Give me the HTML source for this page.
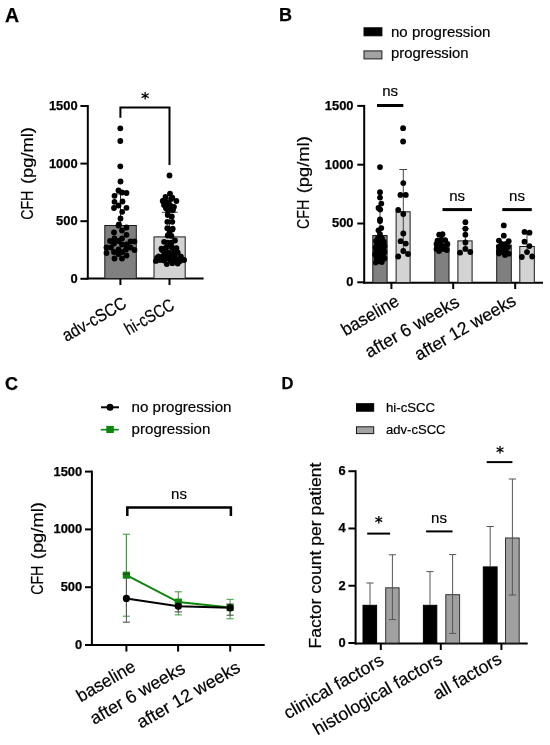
<!DOCTYPE html>
<html><head><meta charset="utf-8"><title>Figure</title>
<style>html,body{margin:0;padding:0;background:#fff;width:550px;height:745px;overflow:hidden}svg{display:block}</style>
</head><body>
<svg width="550" height="745" viewBox="0 0 550 745">
<rect width="550" height="745" fill="#fff"/>
<text x="5" y="22.4" font-size="19.5" font-weight="bold" text-anchor="start" fill="#000" font-family='"Liberation Sans", Arial, sans-serif' stroke="#000" stroke-width="0.25">A</text>
<text x="279" y="21" font-size="18" font-weight="bold" text-anchor="start" fill="#000" font-family='"Liberation Sans", Arial, sans-serif' stroke="#000" stroke-width="0.25">B</text>
<text x="5" y="390.2" font-size="18" font-weight="bold" text-anchor="start" fill="#000" font-family='"Liberation Sans", Arial, sans-serif' stroke="#000" stroke-width="0.25">C</text>
<text x="281.5" y="389" font-size="16.5" font-weight="bold" text-anchor="start" fill="#000" font-family='"Liberation Sans", Arial, sans-serif' stroke="#000" stroke-width="0.25">D</text>
<line x1="87.8" y1="105.00000000000003" x2="87.8" y2="279.5" stroke="#000" stroke-width="2" stroke-linecap="butt"/>
<line x1="86.8" y1="278.5" x2="203.6" y2="278.5" stroke="#000" stroke-width="2" stroke-linecap="butt"/>
<line x1="80.4" y1="278.8" x2="87.8" y2="278.8" stroke="#000" stroke-width="2" stroke-linecap="butt"/>
<text x="77.6" y="282.7" font-size="12.9" font-weight="bold" text-anchor="end" fill="#000" font-family='"Liberation Sans", Arial, sans-serif' stroke="#000" stroke-width="0.25">0</text>
<line x1="80.4" y1="221.20000000000002" x2="87.8" y2="221.20000000000002" stroke="#000" stroke-width="2" stroke-linecap="butt"/>
<text x="77.6" y="225.10000000000002" font-size="12.9" font-weight="bold" text-anchor="end" fill="#000" font-family='"Liberation Sans", Arial, sans-serif' stroke="#000" stroke-width="0.25">500</text>
<line x1="80.4" y1="163.60000000000002" x2="87.8" y2="163.60000000000002" stroke="#000" stroke-width="2" stroke-linecap="butt"/>
<text x="77.6" y="167.50000000000003" font-size="12.9" font-weight="bold" text-anchor="end" fill="#000" font-family='"Liberation Sans", Arial, sans-serif' stroke="#000" stroke-width="0.25">1000</text>
<line x1="80.4" y1="106.00000000000003" x2="87.8" y2="106.00000000000003" stroke="#000" stroke-width="2" stroke-linecap="butt"/>
<text x="77.6" y="109.90000000000003" font-size="12.9" font-weight="bold" text-anchor="end" fill="#000" font-family='"Liberation Sans", Arial, sans-serif' stroke="#000" stroke-width="0.25">1500</text>
<line x1="120.4" y1="278" x2="120.4" y2="285" stroke="#000" stroke-width="2" stroke-linecap="butt"/>
<line x1="169.5" y1="278" x2="169.5" y2="285" stroke="#000" stroke-width="2" stroke-linecap="butt"/>
<rect x="104.80" y="225.50" width="31.50" height="53.00" fill="#808080" stroke="#1a1a1a" stroke-width="1"/>
<rect x="154.00" y="236.90" width="31.20" height="41.60" fill="#d3d3d3" stroke="#1a1a1a" stroke-width="1"/>
<line x1="120.5" y1="194" x2="120.5" y2="225" stroke="#333" stroke-width="1" stroke-linecap="butt"/>
<line x1="116" y1="194" x2="125" y2="194" stroke="#333" stroke-width="1" stroke-linecap="butt"/>
<line x1="169.6" y1="212.3" x2="169.6" y2="236.4" stroke="#333" stroke-width="1" stroke-linecap="butt"/>
<line x1="161.8" y1="212.3" x2="177.7" y2="212.3" stroke="#444" stroke-width="1" stroke-linecap="butt"/>
<circle cx="120.3" cy="128.3" r="2.9" fill="#000"/>
<circle cx="120.3" cy="141" r="2.9" fill="#000"/>
<circle cx="120.3" cy="166.3" r="2.9" fill="#000"/>
<circle cx="120.5" cy="181.5" r="2.9" fill="#000"/>
<circle cx="118.5" cy="190.5" r="2.9" fill="#000"/>
<circle cx="122" cy="192.5" r="2.9" fill="#000"/>
<circle cx="126.5" cy="193" r="2.9" fill="#000"/>
<circle cx="114.5" cy="195.8" r="2.9" fill="#000"/>
<circle cx="114.5" cy="201.8" r="2.9" fill="#000"/>
<circle cx="122.5" cy="201.5" r="2.9" fill="#000"/>
<circle cx="118.5" cy="205.5" r="2.9" fill="#000"/>
<circle cx="114" cy="208" r="2.9" fill="#000"/>
<circle cx="126.5" cy="207.8" r="2.9" fill="#000"/>
<circle cx="122.2" cy="211.8" r="2.9" fill="#000"/>
<circle cx="120.5" cy="218.5" r="2.9" fill="#000"/>
<circle cx="119" cy="224.5" r="2.9" fill="#000"/>
<circle cx="118.5" cy="225.5" r="2.9" fill="#000"/>
<circle cx="126.5" cy="227.5" r="2.9" fill="#000"/>
<circle cx="122" cy="230.5" r="2.9" fill="#000"/>
<circle cx="114" cy="232.5" r="2.9" fill="#000"/>
<circle cx="126.5" cy="234.8" r="2.9" fill="#000"/>
<circle cx="114.5" cy="238.5" r="2.9" fill="#000"/>
<circle cx="122" cy="238.5" r="2.9" fill="#000"/>
<circle cx="110" cy="241" r="2.9" fill="#000"/>
<circle cx="118.5" cy="241" r="2.9" fill="#000"/>
<circle cx="130.5" cy="241.5" r="2.9" fill="#000"/>
<circle cx="134.5" cy="241.5" r="2.9" fill="#000"/>
<circle cx="114" cy="243.5" r="2.9" fill="#000"/>
<circle cx="122" cy="244.5" r="2.9" fill="#000"/>
<circle cx="126.5" cy="244.5" r="2.9" fill="#000"/>
<circle cx="106.5" cy="247.5" r="2.9" fill="#000"/>
<circle cx="111" cy="247.5" r="2.9" fill="#000"/>
<circle cx="130.5" cy="247.5" r="2.9" fill="#000"/>
<circle cx="118.5" cy="249.5" r="2.9" fill="#000"/>
<circle cx="126" cy="249.5" r="2.9" fill="#000"/>
<circle cx="134.5" cy="250" r="2.9" fill="#000"/>
<circle cx="114" cy="252" r="2.9" fill="#000"/>
<circle cx="122" cy="252" r="2.9" fill="#000"/>
<circle cx="106.5" cy="253" r="2.9" fill="#000"/>
<circle cx="118.5" cy="254" r="2.9" fill="#000"/>
<circle cx="126.5" cy="255.5" r="2.9" fill="#000"/>
<circle cx="114.5" cy="258.5" r="2.9" fill="#000"/>
<circle cx="122" cy="258.5" r="2.9" fill="#000"/>
<circle cx="169.5" cy="175.5" r="2.9" fill="#000"/>
<circle cx="170" cy="193.6" r="2.9" fill="#000"/>
<circle cx="165.5" cy="196.8" r="2.9" fill="#000"/>
<circle cx="172.3" cy="197.7" r="2.9" fill="#000"/>
<circle cx="162.7" cy="201" r="2.9" fill="#000"/>
<circle cx="176.4" cy="201" r="2.9" fill="#000"/>
<circle cx="167.7" cy="202.7" r="2.9" fill="#000"/>
<circle cx="166.8" cy="206.4" r="2.9" fill="#000"/>
<circle cx="174" cy="206.8" r="2.9" fill="#000"/>
<circle cx="170.5" cy="209" r="2.9" fill="#000"/>
<circle cx="166" cy="208.2" r="2.9" fill="#000"/>
<circle cx="167.7" cy="215" r="2.9" fill="#000"/>
<circle cx="171.8" cy="216.4" r="2.9" fill="#000"/>
<circle cx="167.3" cy="221.8" r="2.9" fill="#000"/>
<circle cx="172.3" cy="221.8" r="2.9" fill="#000"/>
<circle cx="167.3" cy="228.2" r="2.9" fill="#000"/>
<circle cx="172.7" cy="228.6" r="2.9" fill="#000"/>
<circle cx="172.3" cy="229.5" r="2.9" fill="#000"/>
<circle cx="169.5" cy="232.7" r="2.9" fill="#000"/>
<circle cx="167.7" cy="235.5" r="2.9" fill="#000"/>
<circle cx="171.4" cy="235.9" r="2.9" fill="#000"/>
<circle cx="164.1" cy="241.8" r="2.9" fill="#000"/>
<circle cx="175" cy="240.5" r="2.9" fill="#000"/>
<circle cx="167.7" cy="242.7" r="2.9" fill="#000"/>
<circle cx="171.4" cy="242.7" r="2.9" fill="#000"/>
<circle cx="161.4" cy="248.6" r="2.9" fill="#000"/>
<circle cx="165.9" cy="247.7" r="2.9" fill="#000"/>
<circle cx="172.3" cy="247.7" r="2.9" fill="#000"/>
<circle cx="176.4" cy="248.2" r="2.9" fill="#000"/>
<circle cx="164.1" cy="252.3" r="2.9" fill="#000"/>
<circle cx="168.6" cy="252.3" r="2.9" fill="#000"/>
<circle cx="177.7" cy="252.3" r="2.9" fill="#000"/>
<circle cx="158.6" cy="256.4" r="2.9" fill="#000"/>
<circle cx="162.7" cy="256.4" r="2.9" fill="#000"/>
<circle cx="167.3" cy="256.4" r="2.9" fill="#000"/>
<circle cx="172.3" cy="255" r="2.9" fill="#000"/>
<circle cx="180.9" cy="256.4" r="2.9" fill="#000"/>
<circle cx="155.9" cy="260.9" r="2.9" fill="#000"/>
<circle cx="160" cy="260" r="2.9" fill="#000"/>
<circle cx="164.1" cy="260.5" r="2.9" fill="#000"/>
<circle cx="170.5" cy="260" r="2.9" fill="#000"/>
<circle cx="175" cy="260" r="2.9" fill="#000"/>
<circle cx="178.6" cy="259.1" r="2.9" fill="#000"/>
<circle cx="184.1" cy="260" r="2.9" fill="#000"/>
<circle cx="166.8" cy="264.1" r="2.9" fill="#000"/>
<circle cx="172.3" cy="263.2" r="2.9" fill="#000"/>
<circle cx="177.7" cy="263.6" r="2.9" fill="#000"/>
<circle cx="166" cy="204" r="2.9" fill="#000"/>
<circle cx="170" cy="205" r="2.9" fill="#000"/>
<circle cx="173" cy="210" r="2.9" fill="#000"/>
<circle cx="168" cy="211" r="2.9" fill="#000"/>
<circle cx="164" cy="205" r="2.9" fill="#000"/>
<circle cx="169" cy="246" r="2.9" fill="#000"/>
<circle cx="174" cy="251" r="2.9" fill="#000"/>
<circle cx="162" cy="250" r="2.9" fill="#000"/>
<circle cx="168" cy="258" r="2.9" fill="#000"/>
<circle cx="175" cy="255" r="2.9" fill="#000"/>
<circle cx="180" cy="261" r="2.9" fill="#000"/>
<circle cx="157" cy="258" r="2.9" fill="#000"/>
<circle cx="171" cy="199" r="2.9" fill="#000"/>
<circle cx="165" cy="200" r="2.9" fill="#000"/>
<polyline points="120.4,117.8 120.4,107.6 169.5,107.6 169.5,165" fill="none" stroke="#000" stroke-width="2" stroke-linejoin="miter"/>
<text x="145.1" y="103.5" font-size="16" font-weight="bold" text-anchor="middle" fill="#000" font-family='"DejaVu Sans", sans-serif'>*</text>
<text x="32.6" y="219.8" font-size="16.2" font-weight="normal" text-anchor="start" fill="#000" font-family='"Liberation Sans", Arial, sans-serif' textLength="29.1" lengthAdjust="spacingAndGlyphs" transform="rotate(-90 32.6 219.8)" stroke="#000" stroke-width="0.2">CFH</text>
<text x="32.6" y="184.1" font-size="16.2" font-weight="normal" text-anchor="start" fill="#000" font-family='"Liberation Sans", Arial, sans-serif' textLength="57.08" lengthAdjust="spacingAndGlyphs" transform="rotate(-90 32.6 184.1)" stroke="#000" stroke-width="0.2">(pg/ml)</text>
<text x="127.8" y="306.7" font-size="17.8" font-weight="normal" text-anchor="end" fill="#000" font-family='"Liberation Sans", Arial, sans-serif' textLength="70.7" lengthAdjust="spacingAndGlyphs" transform="rotate(-30 127.8 306.7)" stroke="#000" stroke-width="0.2">adv-cSCC</text>
<text x="175.6" y="308.5" font-size="17.8" font-weight="normal" text-anchor="end" fill="#000" font-family='"Liberation Sans", Arial, sans-serif' textLength="54.0" lengthAdjust="spacingAndGlyphs" transform="rotate(-30 175.6 308.5)" stroke="#000" stroke-width="0.2">hi-cSCC</text>
<line x1="364.2" y1="104.9" x2="364.2" y2="283.7" stroke="#000" stroke-width="2" stroke-linecap="butt"/>
<line x1="363.2" y1="282.7" x2="543" y2="282.7" stroke="#000" stroke-width="2" stroke-linecap="butt"/>
<line x1="357.3" y1="282.3" x2="364.2" y2="282.3" stroke="#000" stroke-width="2" stroke-linecap="butt"/>
<text x="353.5" y="286.2" font-size="12.9" font-weight="bold" text-anchor="end" fill="#000" font-family='"Liberation Sans", Arial, sans-serif' stroke="#000" stroke-width="0.25">0</text>
<line x1="357.3" y1="223.5" x2="364.2" y2="223.5" stroke="#000" stroke-width="2" stroke-linecap="butt"/>
<text x="353.5" y="227.4" font-size="12.9" font-weight="bold" text-anchor="end" fill="#000" font-family='"Liberation Sans", Arial, sans-serif' stroke="#000" stroke-width="0.25">500</text>
<line x1="357.3" y1="164.70000000000002" x2="364.2" y2="164.70000000000002" stroke="#000" stroke-width="2" stroke-linecap="butt"/>
<text x="353.5" y="168.60000000000002" font-size="12.9" font-weight="bold" text-anchor="end" fill="#000" font-family='"Liberation Sans", Arial, sans-serif' stroke="#000" stroke-width="0.25">1000</text>
<line x1="357.3" y1="105.9" x2="364.2" y2="105.9" stroke="#000" stroke-width="2" stroke-linecap="butt"/>
<text x="353.5" y="109.80000000000001" font-size="12.9" font-weight="bold" text-anchor="end" fill="#000" font-family='"Liberation Sans", Arial, sans-serif' stroke="#000" stroke-width="0.25">1500</text>
<line x1="391.4" y1="282" x2="391.4" y2="289" stroke="#000" stroke-width="2" stroke-linecap="butt"/>
<line x1="453.2" y1="282" x2="453.2" y2="289" stroke="#000" stroke-width="2" stroke-linecap="butt"/>
<line x1="515.2" y1="282" x2="515.2" y2="289" stroke="#000" stroke-width="2" stroke-linecap="butt"/>
<rect x="372.80" y="235.50" width="14.30" height="47.00" fill="#808080" stroke="#1a1a1a" stroke-width="1"/>
<rect x="396.10" y="211.80" width="14.00" height="70.70" fill="#d3d3d3" stroke="#1a1a1a" stroke-width="1"/>
<rect x="434.80" y="243.90" width="14.20" height="38.60" fill="#808080" stroke="#1a1a1a" stroke-width="1"/>
<rect x="457.90" y="240.90" width="14.20" height="41.60" fill="#d3d3d3" stroke="#1a1a1a" stroke-width="1"/>
<rect x="496.70" y="245.00" width="14.60" height="37.50" fill="#808080" stroke="#1a1a1a" stroke-width="1"/>
<rect x="519.80" y="246.50" width="14.50" height="36.00" fill="#d3d3d3" stroke="#1a1a1a" stroke-width="1"/>
<line x1="403.3" y1="169.5" x2="403.3" y2="254" stroke="#444" stroke-width="1" stroke-linecap="butt"/>
<line x1="399.3" y1="169.5" x2="407" y2="169.5" stroke="#444" stroke-width="1" stroke-linecap="butt"/>
<line x1="380" y1="210" x2="380" y2="235" stroke="#444" stroke-width="1" stroke-linecap="butt"/>
<circle cx="380" cy="167.1" r="2.9" fill="#000"/>
<circle cx="380" cy="192.2" r="2.9" fill="#000"/>
<circle cx="380" cy="197.6" r="2.9" fill="#000"/>
<circle cx="381.3" cy="203.6" r="2.9" fill="#000"/>
<circle cx="378.5" cy="208" r="2.9" fill="#000"/>
<circle cx="380.2" cy="209.6" r="2.9" fill="#000"/>
<circle cx="380" cy="219.5" r="2.9" fill="#000"/>
<circle cx="380" cy="221" r="2.9" fill="#000"/>
<circle cx="381.3" cy="228.1" r="2.9" fill="#000"/>
<circle cx="378.5" cy="230.3" r="2.9" fill="#000"/>
<circle cx="380" cy="234.1" r="2.9" fill="#000"/>
<circle cx="378" cy="238" r="2.9" fill="#000"/>
<circle cx="382" cy="238.5" r="2.9" fill="#000"/>
<circle cx="376" cy="241" r="2.9" fill="#000"/>
<circle cx="380" cy="241.5" r="2.9" fill="#000"/>
<circle cx="384" cy="242" r="2.9" fill="#000"/>
<circle cx="377" cy="244.5" r="2.9" fill="#000"/>
<circle cx="381" cy="245" r="2.9" fill="#000"/>
<circle cx="384.5" cy="246" r="2.9" fill="#000"/>
<circle cx="375.5" cy="247.5" r="2.9" fill="#000"/>
<circle cx="379.5" cy="248" r="2.9" fill="#000"/>
<circle cx="383.5" cy="249" r="2.9" fill="#000"/>
<circle cx="376" cy="251" r="2.9" fill="#000"/>
<circle cx="380" cy="251.5" r="2.9" fill="#000"/>
<circle cx="384.5" cy="252" r="2.9" fill="#000"/>
<circle cx="375" cy="254.5" r="2.9" fill="#000"/>
<circle cx="379" cy="255" r="2.9" fill="#000"/>
<circle cx="383" cy="255.5" r="2.9" fill="#000"/>
<circle cx="376.5" cy="258" r="2.9" fill="#000"/>
<circle cx="381" cy="258" r="2.9" fill="#000"/>
<circle cx="384.5" cy="258.5" r="2.9" fill="#000"/>
<circle cx="375.8" cy="262.5" r="2.9" fill="#000"/>
<circle cx="381.8" cy="262" r="2.9" fill="#000"/>
<circle cx="378.5" cy="261" r="2.9" fill="#000"/>
<circle cx="403.1" cy="128.2" r="2.9" fill="#000"/>
<circle cx="403.1" cy="141.5" r="2.9" fill="#000"/>
<circle cx="403.3" cy="183.1" r="2.9" fill="#000"/>
<circle cx="400.4" cy="194.9" r="2.9" fill="#000"/>
<circle cx="405.8" cy="194.9" r="2.9" fill="#000"/>
<circle cx="398.2" cy="210" r="2.9" fill="#000"/>
<circle cx="403.3" cy="214" r="2.9" fill="#000"/>
<circle cx="403.3" cy="233.5" r="2.9" fill="#000"/>
<circle cx="400.6" cy="241.2" r="2.9" fill="#000"/>
<circle cx="405.8" cy="243.6" r="2.9" fill="#000"/>
<circle cx="403.3" cy="251" r="2.9" fill="#000"/>
<circle cx="408" cy="254" r="2.9" fill="#000"/>
<circle cx="398.2" cy="256.5" r="2.9" fill="#000"/>
<circle cx="439.2" cy="234.7" r="2.9" fill="#000"/>
<circle cx="442.5" cy="234.2" r="2.9" fill="#000"/>
<circle cx="437.5" cy="240.7" r="2.9" fill="#000"/>
<circle cx="441.4" cy="239.6" r="2.9" fill="#000"/>
<circle cx="445.2" cy="240.2" r="2.9" fill="#000"/>
<circle cx="436.5" cy="244" r="2.9" fill="#000"/>
<circle cx="440.8" cy="244.5" r="2.9" fill="#000"/>
<circle cx="447.4" cy="244" r="2.9" fill="#000"/>
<circle cx="436.5" cy="248.9" r="2.9" fill="#000"/>
<circle cx="441.4" cy="248.9" r="2.9" fill="#000"/>
<circle cx="446.8" cy="250" r="2.9" fill="#000"/>
<circle cx="438.5" cy="246.5" r="2.9" fill="#000"/>
<circle cx="443.5" cy="246.5" r="2.9" fill="#000"/>
<circle cx="445" cy="249" r="2.9" fill="#000"/>
<circle cx="439" cy="251" r="2.9" fill="#000"/>
<line x1="465.4" y1="228.6" x2="465.4" y2="250" stroke="#444" stroke-width="1" stroke-linecap="butt"/>
<line x1="461.8" y1="228.6" x2="469" y2="228.6" stroke="#444" stroke-width="1" stroke-linecap="butt"/>
<circle cx="465.4" cy="222.2" r="2.9" fill="#000"/>
<circle cx="465.4" cy="228.7" r="2.9" fill="#000"/>
<circle cx="465.4" cy="234.7" r="2.9" fill="#000"/>
<circle cx="465.4" cy="242.4" r="2.9" fill="#000"/>
<circle cx="465.4" cy="248.9" r="2.9" fill="#000"/>
<circle cx="460.1" cy="252.7" r="2.9" fill="#000"/>
<circle cx="470.3" cy="252" r="2.9" fill="#000"/>
<circle cx="503.8" cy="225.4" r="2.9" fill="#000"/>
<circle cx="503.8" cy="235.7" r="2.9" fill="#000"/>
<circle cx="498.9" cy="240.6" r="2.9" fill="#000"/>
<circle cx="508.7" cy="241.2" r="2.9" fill="#000"/>
<circle cx="501.6" cy="243.9" r="2.9" fill="#000"/>
<circle cx="506" cy="243.9" r="2.9" fill="#000"/>
<circle cx="503.8" cy="246.6" r="2.9" fill="#000"/>
<circle cx="498.9" cy="251.5" r="2.9" fill="#000"/>
<circle cx="503.8" cy="251.5" r="2.9" fill="#000"/>
<circle cx="508.7" cy="253.7" r="2.9" fill="#000"/>
<circle cx="499" cy="247" r="2.9" fill="#000"/>
<circle cx="503" cy="249" r="2.9" fill="#000"/>
<circle cx="508" cy="247" r="2.9" fill="#000"/>
<circle cx="501" cy="252" r="2.9" fill="#000"/>
<circle cx="506" cy="252" r="2.9" fill="#000"/>
<circle cx="499" cy="253.5" r="2.9" fill="#000"/>
<circle cx="505" cy="255" r="2.9" fill="#000"/>
<line x1="527" y1="232" x2="527" y2="252" stroke="#444" stroke-width="1" stroke-linecap="butt"/>
<circle cx="524.5" cy="231.9" r="2.9" fill="#000"/>
<circle cx="529.5" cy="232.7" r="2.9" fill="#000"/>
<circle cx="524.5" cy="241.7" r="2.9" fill="#000"/>
<circle cx="529.5" cy="246.1" r="2.9" fill="#000"/>
<circle cx="527" cy="252.1" r="2.9" fill="#000"/>
<circle cx="521.8" cy="257" r="2.9" fill="#000"/>
<circle cx="532.2" cy="256.5" r="2.9" fill="#000"/>
<line x1="377" y1="105.5" x2="403.3" y2="105.5" stroke="#000" stroke-width="3" stroke-linecap="butt"/>
<line x1="442.5" y1="209.6" x2="472" y2="209.6" stroke="#000" stroke-width="3" stroke-linecap="butt"/>
<line x1="502.3" y1="209.6" x2="531.8" y2="209.6" stroke="#000" stroke-width="3" stroke-linecap="butt"/>
<text x="390.2" y="96.4" font-size="15" font-weight="normal" text-anchor="middle" fill="#000" font-family='"Liberation Sans", Arial, sans-serif' stroke="#000" stroke-width="0.2">ns</text>
<text x="457.2" y="200.8" font-size="15" font-weight="normal" text-anchor="middle" fill="#000" font-family='"Liberation Sans", Arial, sans-serif' stroke="#000" stroke-width="0.2">ns</text>
<text x="517" y="200.8" font-size="15" font-weight="normal" text-anchor="middle" fill="#000" font-family='"Liberation Sans", Arial, sans-serif' stroke="#000" stroke-width="0.2">ns</text>
<rect x="364.00" y="27.80" width="17.90" height="8.00" fill="#000" stroke="#000" stroke-width="1"/>
<rect x="364.00" y="50.90" width="17.90" height="8.00" fill="#a3a3a3" stroke="#1a1a1a" stroke-width="1"/>
<text x="391" y="36.9" font-size="15" font-weight="normal" text-anchor="start" fill="#000" font-family='"Liberation Sans", Arial, sans-serif' textLength="99.4" lengthAdjust="spacingAndGlyphs" stroke="#000" stroke-width="0.2">no progression</text>
<text x="391" y="57.7" font-size="15" font-weight="normal" text-anchor="start" fill="#000" font-family='"Liberation Sans", Arial, sans-serif' textLength="77.6" lengthAdjust="spacingAndGlyphs" stroke="#000" stroke-width="0.2">progression</text>
<text x="308.8" y="228.9" font-size="16.2" font-weight="normal" text-anchor="start" fill="#000" font-family='"Liberation Sans", Arial, sans-serif' textLength="29.1" lengthAdjust="spacingAndGlyphs" transform="rotate(-90 308.8 228.9)" stroke="#000" stroke-width="0.2">CFH</text>
<text x="308.8" y="193.3" font-size="16.2" font-weight="normal" text-anchor="start" fill="#000" font-family='"Liberation Sans", Arial, sans-serif' textLength="57.08" lengthAdjust="spacingAndGlyphs" transform="rotate(-90 308.8 193.3)" stroke="#000" stroke-width="0.2">(pg/ml)</text>
<text x="400.4" y="304.4" font-size="17.8" font-weight="normal" text-anchor="end" fill="#000" font-family='"Liberation Sans", Arial, sans-serif' textLength="63.5" lengthAdjust="spacingAndGlyphs" transform="rotate(-30 400.4 304.4)" stroke="#000" stroke-width="0.2">baseline</text>
<text x="460.7" y="305.4" font-size="17.8" font-weight="normal" text-anchor="end" fill="#000" font-family='"Liberation Sans", Arial, sans-serif' textLength="105.5" lengthAdjust="spacingAndGlyphs" transform="rotate(-30 460.7 305.4)" stroke="#000" stroke-width="0.2">after 6 weeks</text>
<text x="517.4" y="304.0" font-size="17.8" font-weight="normal" text-anchor="end" fill="#000" font-family='"Liberation Sans", Arial, sans-serif' textLength="113.8" lengthAdjust="spacingAndGlyphs" transform="rotate(-30 517.4 304.0)" stroke="#000" stroke-width="0.2">after 12 weeks</text>
<line x1="91.9" y1="470.6" x2="91.9" y2="646" stroke="#000" stroke-width="2" stroke-linecap="butt"/>
<line x1="90.9" y1="645" x2="264.7" y2="645" stroke="#000" stroke-width="2" stroke-linecap="butt"/>
<line x1="85" y1="645.0" x2="91.9" y2="645.0" stroke="#000" stroke-width="2" stroke-linecap="butt"/>
<text x="82.2" y="648.9" font-size="12.9" font-weight="bold" text-anchor="end" fill="#000" font-family='"Liberation Sans", Arial, sans-serif' stroke="#000" stroke-width="0.25">0</text>
<line x1="85" y1="587.2" x2="91.9" y2="587.2" stroke="#000" stroke-width="2" stroke-linecap="butt"/>
<text x="82.2" y="591.1" font-size="12.9" font-weight="bold" text-anchor="end" fill="#000" font-family='"Liberation Sans", Arial, sans-serif' stroke="#000" stroke-width="0.25">500</text>
<line x1="85" y1="529.4" x2="91.9" y2="529.4" stroke="#000" stroke-width="2" stroke-linecap="butt"/>
<text x="82.2" y="533.3" font-size="12.9" font-weight="bold" text-anchor="end" fill="#000" font-family='"Liberation Sans", Arial, sans-serif' stroke="#000" stroke-width="0.25">1000</text>
<line x1="85" y1="471.6" x2="91.9" y2="471.6" stroke="#000" stroke-width="2" stroke-linecap="butt"/>
<text x="82.2" y="475.5" font-size="12.9" font-weight="bold" text-anchor="end" fill="#000" font-family='"Liberation Sans", Arial, sans-serif' stroke="#000" stroke-width="0.25">1500</text>
<line x1="126.4" y1="645" x2="126.4" y2="651.6" stroke="#000" stroke-width="2" stroke-linecap="butt"/>
<line x1="178.1" y1="645" x2="178.1" y2="651.6" stroke="#000" stroke-width="2" stroke-linecap="butt"/>
<line x1="230.2" y1="645" x2="230.2" y2="651.6" stroke="#000" stroke-width="2" stroke-linecap="butt"/>
<line x1="126.4" y1="534.2" x2="126.4" y2="575" stroke="#3a9a3a" stroke-width="1" stroke-linecap="butt"/>
<line x1="122.80000000000001" y1="534.2" x2="130.0" y2="534.2" stroke="#3a9a3a" stroke-width="1" stroke-linecap="butt"/>
<line x1="122.80000000000001" y1="616.2" x2="130.0" y2="616.2" stroke="#3a9a3a" stroke-width="1" stroke-linecap="butt"/>
<line x1="126.4" y1="534.2" x2="126.4" y2="616.2" stroke="#3a9a3a" stroke-width="1" stroke-linecap="butt"/>
<line x1="174.70000000000002" y1="591.8" x2="181.9" y2="591.8" stroke="#3a9a3a" stroke-width="1" stroke-linecap="butt"/>
<line x1="174.70000000000002" y1="614.9" x2="181.9" y2="614.9" stroke="#3a9a3a" stroke-width="1" stroke-linecap="butt"/>
<line x1="178.3" y1="591.8" x2="178.3" y2="614.9" stroke="#3a9a3a" stroke-width="1" stroke-linecap="butt"/>
<line x1="226.5" y1="599.3" x2="233.7" y2="599.3" stroke="#3a9a3a" stroke-width="1" stroke-linecap="butt"/>
<line x1="226.5" y1="618.8" x2="233.7" y2="618.8" stroke="#3a9a3a" stroke-width="1" stroke-linecap="butt"/>
<line x1="230.1" y1="599.3" x2="230.1" y2="618.8" stroke="#3a9a3a" stroke-width="1" stroke-linecap="butt"/>
<line x1="122.80000000000001" y1="574.1" x2="130.0" y2="574.1" stroke="#444" stroke-width="1" stroke-linecap="butt"/>
<line x1="122.80000000000001" y1="622.2" x2="130.0" y2="622.2" stroke="#444" stroke-width="1" stroke-linecap="butt"/>
<line x1="126.4" y1="574.1" x2="126.4" y2="622.2" stroke="#555" stroke-width="1" stroke-linecap="butt"/>
<line x1="174.70000000000002" y1="601" x2="181.9" y2="601" stroke="#444" stroke-width="1" stroke-linecap="butt"/>
<line x1="174.70000000000002" y1="611.9" x2="181.9" y2="611.9" stroke="#444" stroke-width="1" stroke-linecap="butt"/>
<line x1="178.3" y1="601" x2="178.3" y2="611.9" stroke="#555" stroke-width="1" stroke-linecap="butt"/>
<line x1="226.5" y1="604" x2="233.7" y2="604" stroke="#444" stroke-width="1" stroke-linecap="butt"/>
<line x1="226.5" y1="615.2" x2="233.7" y2="615.2" stroke="#444" stroke-width="1" stroke-linecap="butt"/>
<line x1="230.1" y1="604" x2="230.1" y2="615.2" stroke="#555" stroke-width="1" stroke-linecap="butt"/>
<polyline points="126.4,575.2 178.3,602.1 230.1,607.6" fill="none" stroke="#0b850b" stroke-width="2" stroke-linejoin="miter"/>
<polyline points="126.4,598.4 178.3,606.2 230.1,607.8" fill="none" stroke="#000" stroke-width="2" stroke-linejoin="miter"/>
<rect x="122.80000000000001" y="571.7" width="7.2" height="7" fill="#0b850b"/>
<rect x="174.70000000000002" y="598.6" width="7.2" height="7" fill="#0b850b"/>
<rect x="226.5" y="604.1" width="7.2" height="7" fill="#0b850b"/>
<circle cx="126.4" cy="598.4" r="3.6" fill="#000"/>
<circle cx="178.3" cy="606.2" r="3.6" fill="#000"/>
<circle cx="230.1" cy="607.8" r="3.6" fill="#000"/>
<line x1="122.8" y1="574.1" x2="130" y2="574.1" stroke="#333" stroke-width="1" stroke-linecap="butt"/>
<polyline points="127.3,516 127.3,507.6 230.9,507.6 230.9,516" fill="none" stroke="#000" stroke-width="2.5" stroke-linejoin="miter"/>
<text x="179" y="499.4" font-size="15" font-weight="normal" text-anchor="middle" fill="#000" font-family='"Liberation Sans", Arial, sans-serif' stroke="#000" stroke-width="0.2">ns</text>
<line x1="101" y1="407.3" x2="119" y2="407.3" stroke="#000" stroke-width="2" stroke-linecap="butt"/>
<circle cx="110" cy="407.3" r="3.5" fill="#000"/>
<line x1="100.8" y1="429.7" x2="118.8" y2="429.7" stroke="#0b850b" stroke-width="1.6" stroke-linecap="butt"/>
<rect x="106.3" y="425.9" width="7.5" height="7.1" fill="#0b850b"/>
<text x="131.6" y="412" font-size="15" font-weight="normal" text-anchor="start" fill="#000" font-family='"Liberation Sans", Arial, sans-serif' textLength="99.9" lengthAdjust="spacingAndGlyphs" stroke="#000" stroke-width="0.2">no progression</text>
<text x="131.6" y="433.8" font-size="15" font-weight="normal" text-anchor="start" fill="#000" font-family='"Liberation Sans", Arial, sans-serif' textLength="78.8" lengthAdjust="spacingAndGlyphs" stroke="#000" stroke-width="0.2">progression</text>
<text x="42.6" y="594.8" font-size="16.2" font-weight="normal" text-anchor="start" fill="#000" font-family='"Liberation Sans", Arial, sans-serif' textLength="29.1" lengthAdjust="spacingAndGlyphs" transform="rotate(-90 42.6 594.8)" stroke="#000" stroke-width="0.2">CFH</text>
<text x="42.6" y="559.2" font-size="16.2" font-weight="normal" text-anchor="start" fill="#000" font-family='"Liberation Sans", Arial, sans-serif' textLength="57.08" lengthAdjust="spacingAndGlyphs" transform="rotate(-90 42.6 559.2)" stroke="#000" stroke-width="0.2">(pg/ml)</text>
<text x="136.9" y="670.0" font-size="17.8" font-weight="normal" text-anchor="end" fill="#000" font-family='"Liberation Sans", Arial, sans-serif' textLength="64.8" lengthAdjust="spacingAndGlyphs" transform="rotate(-30 136.9 670.0)" stroke="#000" stroke-width="0.2">baseline</text>
<text x="186.4" y="671.7" font-size="17.8" font-weight="normal" text-anchor="end" fill="#000" font-family='"Liberation Sans", Arial, sans-serif' textLength="106.4" lengthAdjust="spacingAndGlyphs" transform="rotate(-30 186.4 671.7)" stroke="#000" stroke-width="0.2">after 6 weeks</text>
<text x="241.6" y="670.8" font-size="17.8" font-weight="normal" text-anchor="end" fill="#000" font-family='"Liberation Sans", Arial, sans-serif' textLength="116.1" lengthAdjust="spacingAndGlyphs" transform="rotate(-30 241.6 670.8)" stroke="#000" stroke-width="0.2">after 12 weeks</text>
<line x1="355.6" y1="470.22" x2="355.6" y2="644.5" stroke="#000" stroke-width="2" stroke-linecap="butt"/>
<line x1="354.6" y1="643.5" x2="527.7" y2="643.5" stroke="#000" stroke-width="2" stroke-linecap="butt"/>
<line x1="348.4" y1="643.0" x2="355.6" y2="643.0" stroke="#000" stroke-width="2" stroke-linecap="butt"/>
<text x="345.7" y="646.9" font-size="12.9" font-weight="bold" text-anchor="end" fill="#000" font-family='"Liberation Sans", Arial, sans-serif' stroke="#000" stroke-width="0.25">0</text>
<line x1="348.4" y1="585.74" x2="355.6" y2="585.74" stroke="#000" stroke-width="2" stroke-linecap="butt"/>
<text x="345.7" y="589.64" font-size="12.9" font-weight="bold" text-anchor="end" fill="#000" font-family='"Liberation Sans", Arial, sans-serif' stroke="#000" stroke-width="0.25">2</text>
<line x1="348.4" y1="528.48" x2="355.6" y2="528.48" stroke="#000" stroke-width="2" stroke-linecap="butt"/>
<text x="345.7" y="532.38" font-size="12.9" font-weight="bold" text-anchor="end" fill="#000" font-family='"Liberation Sans", Arial, sans-serif' stroke="#000" stroke-width="0.25">4</text>
<line x1="348.4" y1="471.22" x2="355.6" y2="471.22" stroke="#000" stroke-width="2" stroke-linecap="butt"/>
<text x="345.7" y="475.12" font-size="12.9" font-weight="bold" text-anchor="end" fill="#000" font-family='"Liberation Sans", Arial, sans-serif' stroke="#000" stroke-width="0.25">6</text>
<line x1="380.8" y1="643" x2="380.8" y2="650" stroke="#000" stroke-width="2" stroke-linecap="butt"/>
<line x1="440.8" y1="643" x2="440.8" y2="650" stroke="#000" stroke-width="2" stroke-linecap="butt"/>
<line x1="501.4" y1="643" x2="501.4" y2="650" stroke="#000" stroke-width="2" stroke-linecap="butt"/>
<rect x="363.00" y="605.30" width="13.60" height="37.70" fill="#000" stroke="#000" stroke-width="1"/>
<rect x="385.70" y="587.80" width="13.40" height="55.20" fill="#a0a0a0" stroke="#333" stroke-width="1"/>
<rect x="423.40" y="605.30" width="13.40" height="37.70" fill="#000" stroke="#000" stroke-width="1"/>
<rect x="445.80" y="594.70" width="13.80" height="48.30" fill="#a0a0a0" stroke="#333" stroke-width="1"/>
<rect x="483.30" y="566.90" width="13.80" height="76.10" fill="#000" stroke="#000" stroke-width="1"/>
<rect x="505.50" y="538.00" width="13.70" height="105.00" fill="#a0a0a0" stroke="#333" stroke-width="1"/>
<line x1="370" y1="583" x2="370" y2="604.8" stroke="#555" stroke-width="1" stroke-linecap="butt"/>
<line x1="366.4" y1="583" x2="373.6" y2="583" stroke="#555" stroke-width="1" stroke-linecap="butt"/>
<line x1="392.4" y1="554.8" x2="392.4" y2="619.6" stroke="#555" stroke-width="1" stroke-linecap="butt"/>
<line x1="388.79999999999995" y1="554.8" x2="396.0" y2="554.8" stroke="#555" stroke-width="1" stroke-linecap="butt"/>
<line x1="388.79999999999995" y1="619.6" x2="396.0" y2="619.6" stroke="#555" stroke-width="1" stroke-linecap="butt"/>
<line x1="430" y1="571.6" x2="430" y2="604.8" stroke="#555" stroke-width="1" stroke-linecap="butt"/>
<line x1="426.4" y1="571.6" x2="433.6" y2="571.6" stroke="#555" stroke-width="1" stroke-linecap="butt"/>
<line x1="452.6" y1="554.6" x2="452.6" y2="633.4" stroke="#555" stroke-width="1" stroke-linecap="butt"/>
<line x1="449.0" y1="554.6" x2="456.20000000000005" y2="554.6" stroke="#555" stroke-width="1" stroke-linecap="butt"/>
<line x1="449.0" y1="633.4" x2="456.20000000000005" y2="633.4" stroke="#555" stroke-width="1" stroke-linecap="butt"/>
<line x1="490.2" y1="526.5" x2="490.2" y2="566.4" stroke="#555" stroke-width="1" stroke-linecap="butt"/>
<line x1="486.59999999999997" y1="526.5" x2="493.8" y2="526.5" stroke="#555" stroke-width="1" stroke-linecap="butt"/>
<line x1="512.4" y1="479" x2="512.4" y2="595" stroke="#555" stroke-width="1" stroke-linecap="butt"/>
<line x1="508.79999999999995" y1="479" x2="516.0" y2="479" stroke="#555" stroke-width="1" stroke-linecap="butt"/>
<line x1="508.79999999999995" y1="595" x2="516.0" y2="595" stroke="#555" stroke-width="1" stroke-linecap="butt"/>
<line x1="367.2" y1="533.6" x2="390.1" y2="533.6" stroke="#000" stroke-width="2" stroke-linecap="butt"/>
<text x="378.9" y="528.46" font-size="15.5" font-weight="bold" text-anchor="middle" fill="#000" font-family='"DejaVu Sans", sans-serif'>*</text>
<line x1="426.1" y1="531.4" x2="452.5" y2="531.4" stroke="#000" stroke-width="2" stroke-linecap="butt"/>
<text x="439" y="522.7" font-size="15" font-weight="normal" text-anchor="middle" fill="#000" font-family='"Liberation Sans", Arial, sans-serif' stroke="#000" stroke-width="0.2">ns</text>
<line x1="486.7" y1="462.1" x2="512.4" y2="462.1" stroke="#000" stroke-width="2" stroke-linecap="butt"/>
<text x="500" y="458.06" font-size="15.5" font-weight="bold" text-anchor="middle" fill="#000" font-family='"DejaVu Sans", sans-serif'>*</text>
<rect x="356.50" y="403.70" width="17.20" height="7.50" fill="#000" stroke="#000" stroke-width="1"/>
<rect x="356.50" y="426.80" width="17.20" height="6.80" fill="#a3a3a3" stroke="#1a1a1a" stroke-width="1"/>
<text x="386" y="411.7" font-size="13.2" font-weight="normal" text-anchor="start" fill="#000" font-family='"Liberation Sans", Arial, sans-serif' textLength="49" lengthAdjust="spacingAndGlyphs" stroke="#000" stroke-width="0.2">hi-cSCC</text>
<text x="386" y="434.1" font-size="13.2" font-weight="normal" text-anchor="start" fill="#000" font-family='"Liberation Sans", Arial, sans-serif' textLength="59.5" lengthAdjust="spacingAndGlyphs" stroke="#000" stroke-width="0.2">adv-cSCC</text>
<text x="321.1" y="555.5" font-size="15.6" font-weight="normal" text-anchor="middle" fill="#000" font-family='"Liberation Sans", Arial, sans-serif' textLength="186" lengthAdjust="spacingAndGlyphs" transform="rotate(-90 321.1 555.5)" stroke="#000" stroke-width="0.2">Factor count per patient</text>
<text x="384.9" y="663.6" font-size="17.8" font-weight="normal" text-anchor="end" fill="#000" font-family='"Liberation Sans", Arial, sans-serif' textLength="111.9" lengthAdjust="spacingAndGlyphs" transform="rotate(-30 384.9 663.6)" stroke="#000" stroke-width="0.2">clinical factors</text>
<text x="443.7" y="662.7" font-size="17.8" font-weight="normal" text-anchor="end" fill="#000" font-family='"Liberation Sans", Arial, sans-serif' textLength="145.6" lengthAdjust="spacingAndGlyphs" transform="rotate(-30 443.7 662.7)" stroke="#000" stroke-width="0.2">histological factors</text>
<text x="503.0" y="662.4" font-size="17.8" font-weight="normal" text-anchor="end" fill="#000" font-family='"Liberation Sans", Arial, sans-serif' textLength="75.8" lengthAdjust="spacingAndGlyphs" transform="rotate(-30 503.0 662.4)" stroke="#000" stroke-width="0.2">all factors</text>
</svg>
</body></html>
